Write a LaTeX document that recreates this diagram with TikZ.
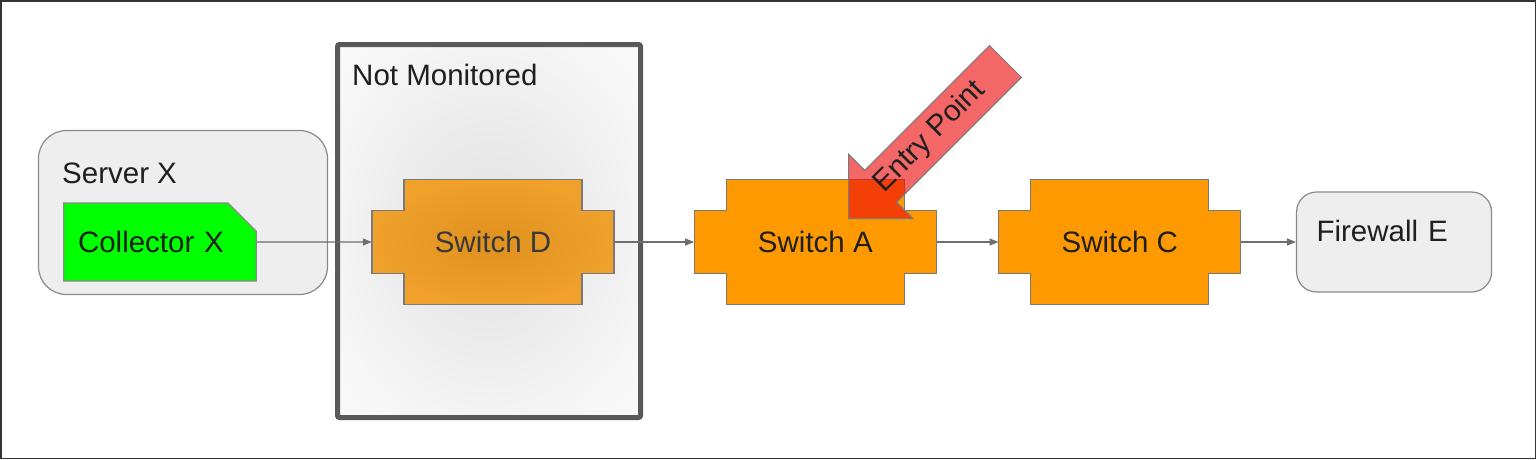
\documentclass[tikz,border=0pt]{standalone}
\usepackage{fontspec}
\setmainfont{Liberation Sans}
\usetikzlibrary{positioning, calc, shapes.misc, shapes.arrows, arrows.meta}

\pgfdeclarelayer{back}
\pgfdeclarelayer{mid}
\pgfsetlayers{back,mid,main}

\definecolor{boxgray}{HTML}{EEEEEE}
\definecolor{boxline}{HTML}{8A8A8A}
\definecolor{collgreen}{HTML}{00FF00}
\definecolor{swfill}{HTML}{FF9900}
\definecolor{swline}{HTML}{7A7A7A}
\definecolor{swDin}{HTML}{DF901E}
\definecolor{swDout}{HTML}{EFA12C}
\definecolor{swDtext}{HTML}{383838}
\definecolor{wireline}{HTML}{6E6E6E}
\definecolor{nomonline}{HTML}{595959}
\definecolor{entryred}{HTML}{EB0A0A}
\definecolor{frameline}{HTML}{333333}
\definecolor{textblack}{HTML}{1F1F1F}

% soft grey glow behind the unmonitored switch
\pgfdeclareradialshading{nomonshade}{\pgfpoint{0bp}{0bp}}{color(0bp)=(gray!22); color(12bp)=(gray!17); color(28bp)=(gray!7); color(40bp)=(gray!3); color(50bp)=(gray!2)}

\begin{document}
\begin{tikzpicture}[x=1pt, y=-1pt,
    every node/.style={font=\fontsize{29.5}{34}\selectfont, text=textblack},
    group/.style={rectangle, rounded corners=28pt, draw=boxline, fill=boxgray, line width=1.2pt},
    nomonbox/.style={rectangle, rounded corners=2pt, draw=nomonline, line width=5pt, shading=nomonshade},
    title/.style={anchor=base west, inner sep=0pt},
    collector/.style={chamfered rectangle, chamfered rectangle corners=north east,
        chamfered rectangle xsep=15pt, chamfered rectangle ysep=14pt, draw=boxline, fill=collgreen,
        line width=1.2pt, minimum height=78pt, inner xsep=0pt, text width=164pt, align=left},
    switch/.style={rectangle, minimum width=242pt, minimum height=63pt, inner sep=0pt},
    swshape/.style={draw=swline, line width=1.2pt, fill=swfill},
    swflat/.style={},
    swdim/.style={inner color=swDin, outer color=swDout},
    wire/.style={draw=wireline, line width=1.1pt, -{Triangle[length=9pt, width=7pt]}},
    entry/.style={single arrow, shape border rotate=180, rotate=45, single arrow head extend=23pt,
        single arrow tip angle=90, minimum height=222pt, text height=21pt, text depth=6pt,
        inner ysep=8.5pt, inner xsep=4pt, draw=swline, line width=1pt, fill=entryred,
        fill opacity=0.62, text opacity=1}
]
    \useasboundingbox (0,0) rectangle (1536,459);
    \draw[frameline, line width=1.5pt] (0.75,0.75) rectangle (1535.25,458.25);

    \begin{pgfonlayer}{back}
        \node[group, minimum width=289pt, minimum height=164pt] (srv) at (183,212.5) {};
        \node[nomonbox, minimum width=303pt, minimum height=373pt] (nomon) at (489,231) {};
    \end{pgfonlayer}
    \node[title] (srv-title) at (62,183) {Server X};
    \node[title] (nomon-title) at (352,85) {Not Monitored};

    \node[collector] (col) at (160,242) {Collector X};
    \node[switch, right=115pt of col, text=swDtext] (swD) {Switch D};
    \node[switch, right=80pt of swD] (swA) {Switch A};
    \node[switch, right=62pt of swA] (swC) {Switch C};
    \node[group, rounded corners=20pt, right=55pt of swC, minimum width=195pt, minimum height=100pt,
        inner xsep=20pt, inner ysep=0pt, text width=155pt, align=left, text height=21pt, text depth=23pt] (fw) {Firewall E};

    % switch outlines behind their labels
    \begin{pgfonlayer}{mid}
        \foreach \sw/\look in {swD/swdim, swA/swflat, swC/swflat}
            \draw[swshape, \look] ($(\sw)+(-121,-31.5)$) -- ++(32,0) -- ++(0,-31) -- ++(178,0) -- ++(0,31)
                -- ++(32,0) -- ++(0,63) -- ++(-32,0) -- ++(0,31) -- ++(-178,0) -- ++(0,-31) -- ++(-32,0) -- cycle;
    \end{pgfonlayer}

    \draw[wire] (col) -- (swD);
    \draw[wire] (swD) -- (swA);
    \draw[wire] (swA) -- (swC);
    \draw[wire] (swC) -- (fw);

    \node[entry, anchor=tip] (entry) at (848,219) {\hspace*{-14pt}Entry Point};
\end{tikzpicture}
\end{document}
